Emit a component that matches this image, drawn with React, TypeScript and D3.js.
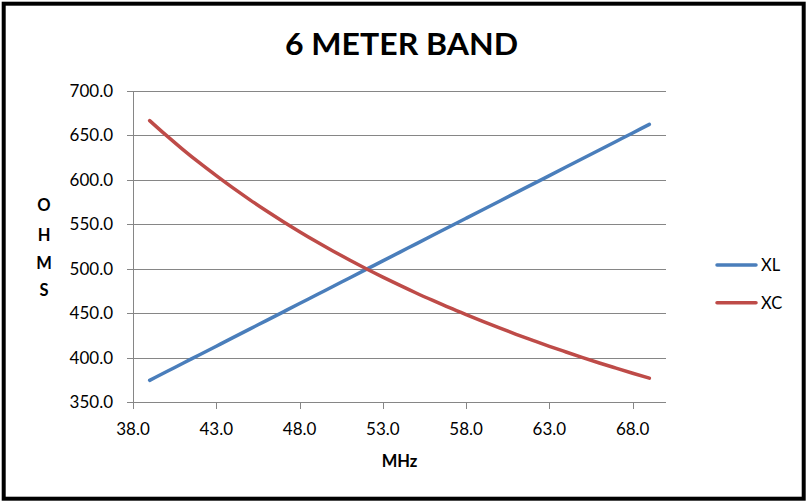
import React from "react";
import * as d3 from "d3";

const freqMHz = [39, 40, 41, 42, 43, 44, 45, 46, 47, 48, 49, 50, 51, 52, 53, 54, 55, 56, 57, 58, 59, 60, 61, 62, 63, 64, 65, 66, 67, 68, 69];
const xlOhms = [374.4, 384.0, 393.6, 403.2, 412.8, 422.4, 432.0, 441.6, 451.2, 460.8, 470.4, 480.0, 489.6, 499.2, 508.8, 518.4, 528.0, 537.6, 547.2, 556.8, 566.4, 576.0, 585.6, 595.2, 604.8, 614.4, 624.0, 633.6, 643.2, 652.8, 662.4];
const xcOhms = [666.7, 650.0, 634.1, 619.0, 604.7, 590.9, 577.8, 565.2, 553.2, 541.7, 530.6, 520.0, 509.8, 500.0, 490.6, 481.5, 472.7, 464.3, 456.1, 448.3, 440.7, 433.3, 426.2, 419.4, 412.7, 406.3, 400.0, 393.9, 388.1, 382.4, 376.8];
const xTicks = [38, 43, 48, 53, 58, 63, 68];
const yTicks = [350, 400, 450, 500, 550, 600, 650, 700];
const seriesNames = ["XL", "XC"];
const seriesColors = ["#4A7EBB", "#BE4B48"];
const titleText = "6 METER BAND";
const xTitle = "MHz";
const yTitleLetters = ["O", "H", "M", "S"];

const W = 808;
const H = 503;
const plot = { left: 133, right: 666, top: 91, bottom: 402 };
const FONT = "Lato, 'Open Sans', sans-serif";

export default function App() {
  const x = d3.scaleLinear().domain([38, 70]).range([plot.left, plot.right]);
  const y = d3.scaleLinear().domain([350, 700]).range([plot.bottom, plot.top]);
  const line = d3
    .line<[number, number]>()
    .x((d) => x(d[0]))
    .y((d) => y(d[1]))
    .curve(d3.curveMonotoneX);
  const series = [xlOhms, xcOhms].map((vals) =>
    freqMHz.map((f, i) => [f, vals[i]] as [number, number])
  );
  const grid = "#868686";
  const yLetterBase = [211, 241, 269, 296];

  return (
    <svg
      width={W}
      height={H}
      style={{ position: "absolute", left: 0, top: 0, background: "#fff" }}
      fontFamily={FONT}
    >
      <rect x={0} y={0} width={W} height={H} fill="#fff" />
      <rect x={3.7} y={3.7} width={800} height={495} fill="#fff" stroke="#000" strokeWidth={4} />
      <text x={401.5} y={55} textAnchor="middle" fontSize={31} fontWeight="bold" fill="#000" textLength={233} lengthAdjust="spacingAndGlyphs">
        {titleText}
      </text>
      {yTicks.map((t) => (
        <g key={"y" + t}>
          <line x1={plot.left - 6} x2={plot.right} y1={Math.round(y(t)) + 0.5} y2={Math.round(y(t)) + 0.5} stroke={grid} strokeWidth={1} />
          <text x={113} y={y(t) + 6} textAnchor="end" fontSize={17} fill="#000">
            {t.toFixed(1)}
          </text>
        </g>
      ))}
      <line x1={plot.left + 0.5} x2={plot.left + 0.5} y1={plot.top} y2={plot.bottom} stroke={grid} strokeWidth={1} />
      {xTicks.map((t) => (
        <g key={"x" + t}>
          <line x1={Math.round(x(t)) + 0.5} x2={Math.round(x(t)) + 0.5} y1={plot.bottom} y2={plot.bottom + 7} stroke={grid} strokeWidth={1} />
          <text x={x(t)} y={435} textAnchor="middle" fontSize={17} fill="#000">
            {t.toFixed(1)}
          </text>
        </g>
      ))}
      {series.map((pts, i) => (
        <path key={seriesNames[i]} d={line(pts) || ""} fill="none" stroke={seriesColors[i]} strokeWidth={3.5} strokeLinecap="round" strokeLinejoin="round" />
      ))}
      <text x={(plot.left + plot.right) / 2} y={467} textAnchor="middle" fontSize={16.5} fontWeight="bold" fill="#000">
        {xTitle}
      </text>
      {yTitleLetters.map((c, i) => (
        <text key={c + i} x={44} y={yLetterBase[i]} textAnchor="middle" fontSize={16.5} fontWeight="bold" fill="#000">
          {c}
        </text>
      ))}
      {seriesNames.map((n, i) => (
        <g key={"lg" + n}>
          <line x1={717} x2={756} y1={265 + i * 37.7} y2={265 + i * 37.7} stroke={seriesColors[i]} strokeWidth={3.5} strokeLinecap="round" />
          <text x={761} y={271 + i * 37.7} fontSize={16.5} fill="#000">
            {n}
          </text>
        </g>
      ))}
    </svg>
  );
}
